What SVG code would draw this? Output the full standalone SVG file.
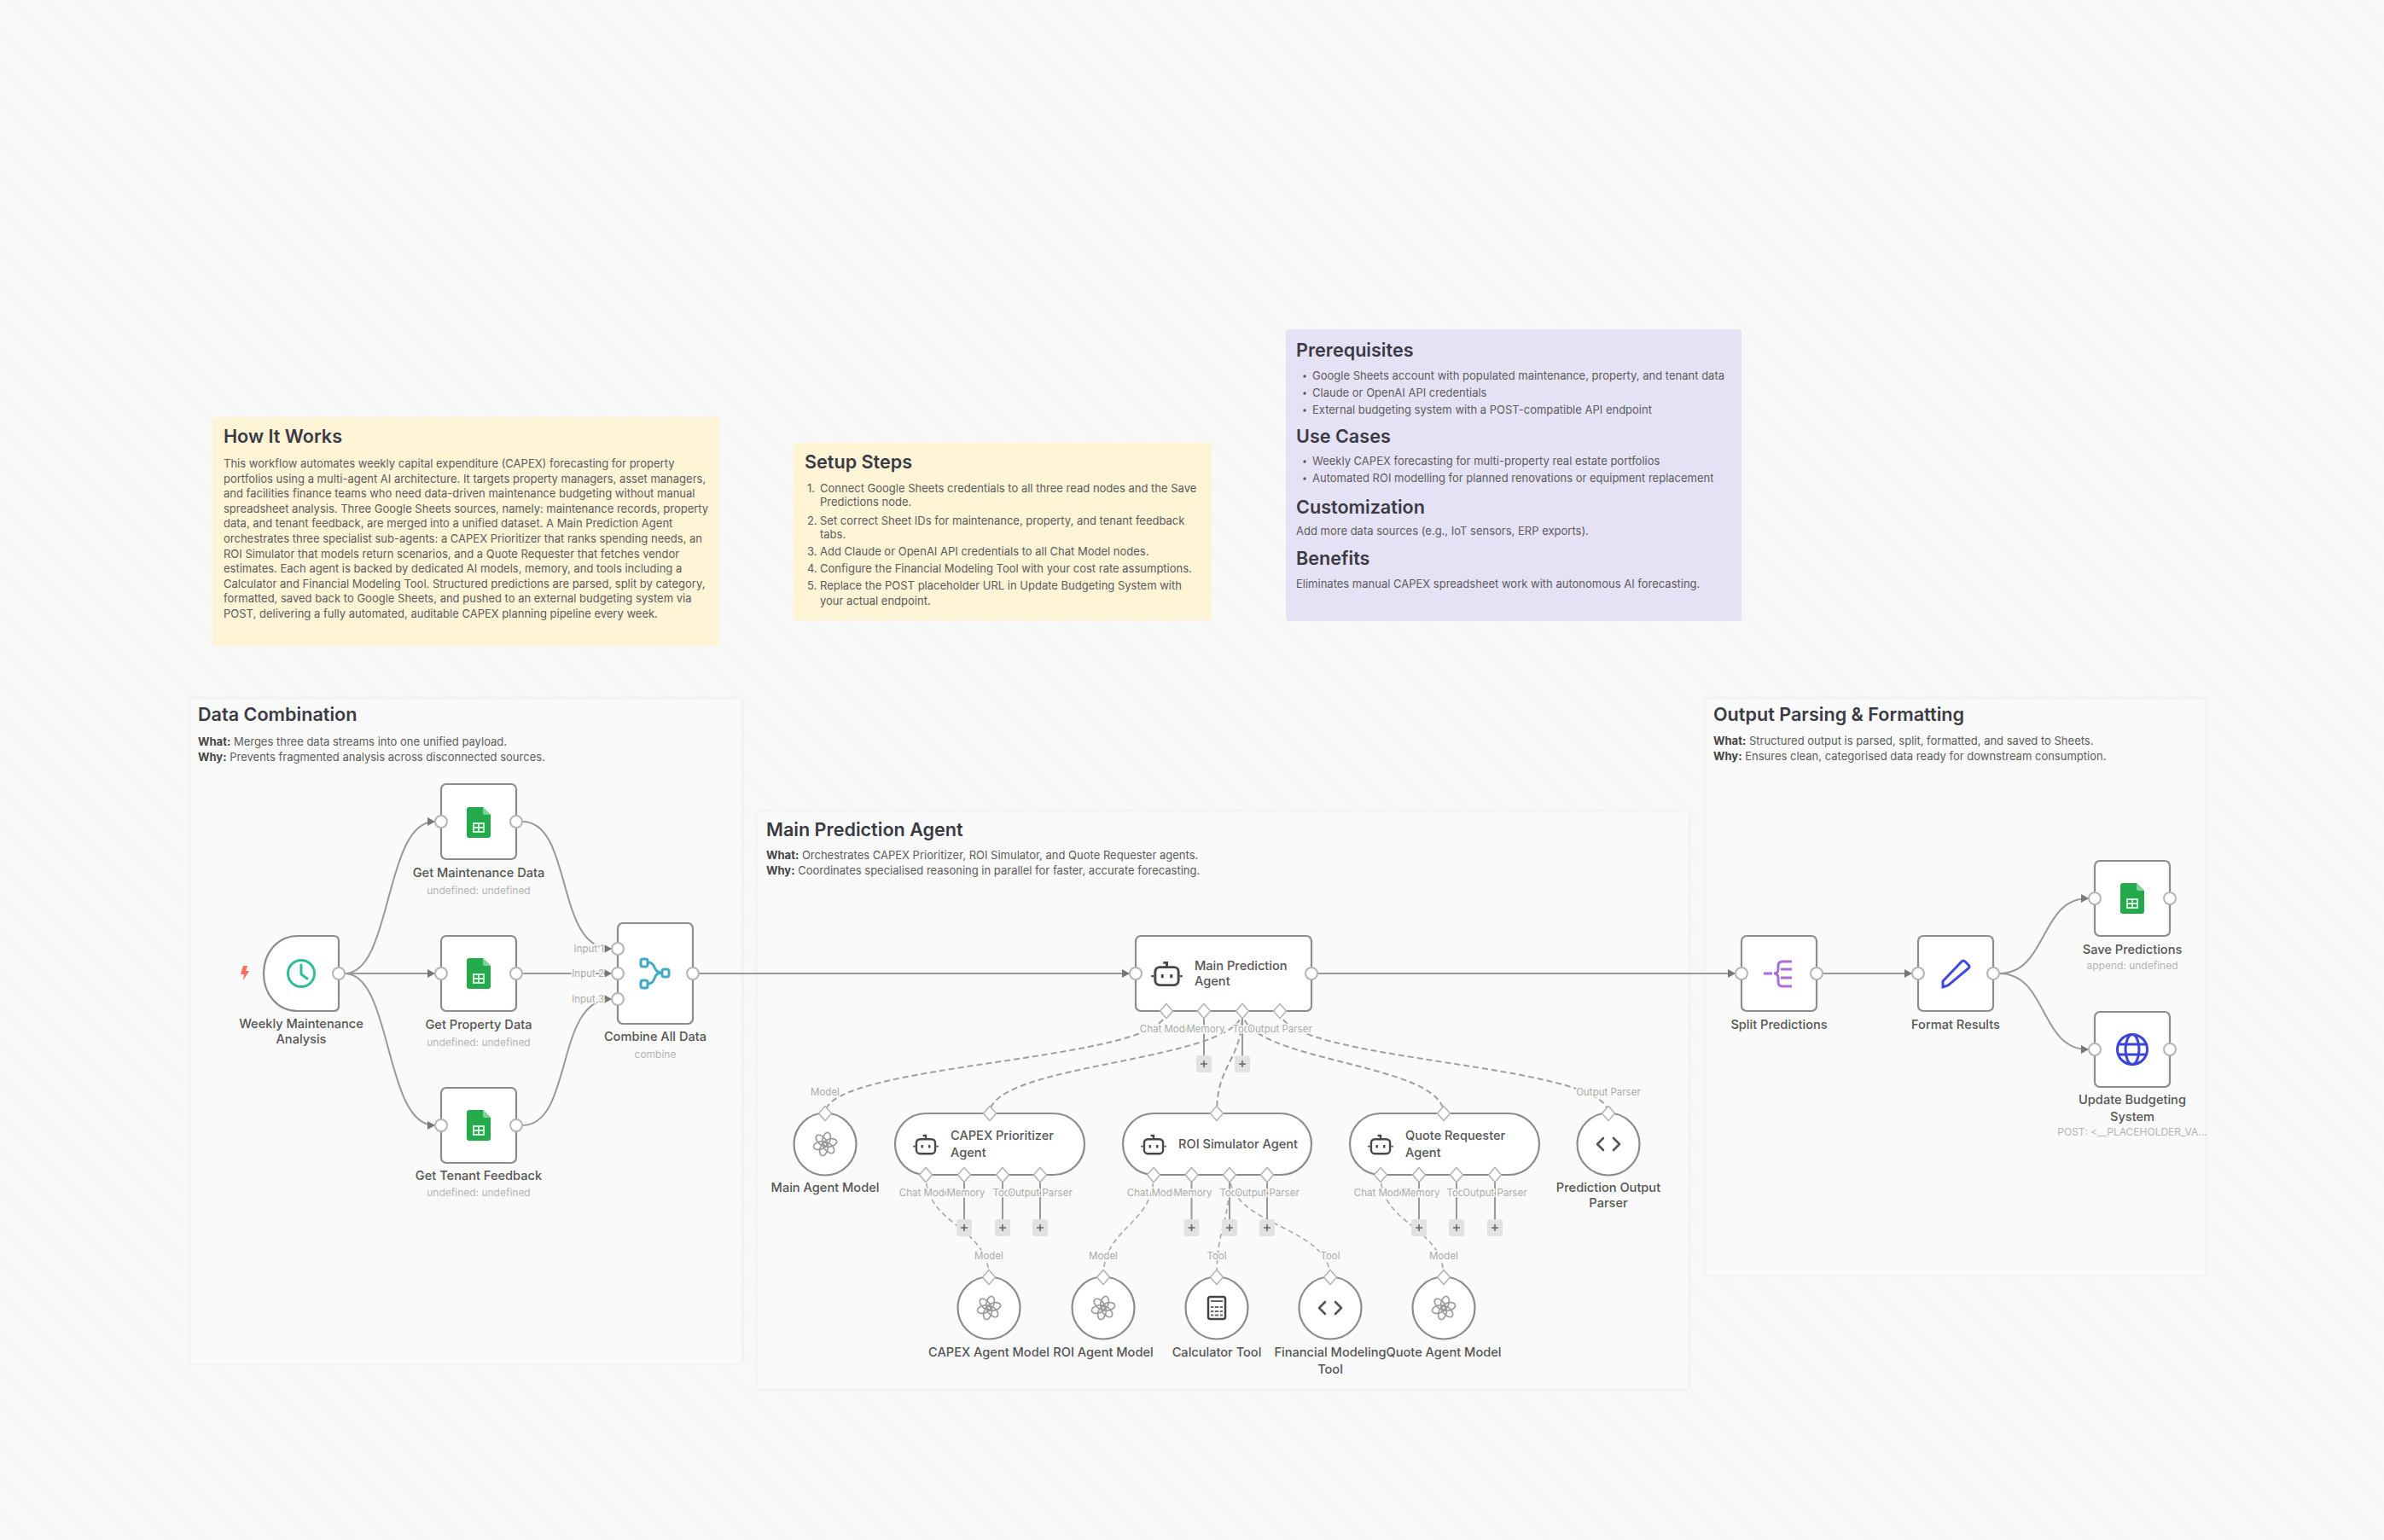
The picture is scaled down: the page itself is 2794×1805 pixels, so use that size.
<svg xmlns="http://www.w3.org/2000/svg" width="2794" height="1805" viewBox="0 0 2794 1805">
<style>
text{font-family:Inter,"Liberation Sans",sans-serif}
.panel{fill:#fafafa;stroke:#f3f3f3;stroke-width:3}
.sticky-y{fill:#fff4d6}
.sticky-p{fill:#e6e2f5}
.h1{font-size:21.600px;font-weight:600;fill:#3a3a44}
.b{font-size:13px;fill:#5c5c5c}
.bb{font-weight:700;fill:#444}
.n{fill:#fff;stroke:#8c8c8c;stroke-width:2.2}
.nl{font-size:14.600px;font-weight:500;fill:#555;text-anchor:middle}
.al{font-size:14.600px;font-weight:500;fill:#555}
.sub{font-size:12px;fill:#b4b4b4;text-anchor:middle}
.pl{font-size:11.500px;fill:#aaa;text-anchor:middle;paint-order:stroke;stroke:#fafafa;stroke-width:3px}
.inl{font-size:11.500px;fill:#aaa;text-anchor:end;paint-order:stroke;stroke:#fafafa;stroke-width:3px}
.c{fill:none;stroke:#999;stroke-width:2}
.a{fill:none;stroke:#a0a0a0;stroke-width:2;stroke-dasharray:7 4}
.a2{fill:none;stroke:#a8a8a8;stroke-width:1.600;stroke-dasharray:6 4}
.s{fill:none;stroke:#999;stroke-width:2}
.port{fill:#fff;stroke:#b5b5b5;stroke-width:2}
.dm{fill:#fff;stroke:#b5b5b5;stroke-width:1.600}
.pb{fill:#e2e2e2}
.pp{stroke:#666;stroke-width:1.600;fill:none}
</style>
<defs>
<pattern id="bg" width="30" height="30" patternUnits="userSpaceOnUse" patternTransform="rotate(-45)">
<rect width="30" height="30" fill="#f8f8f8"/><rect width="12" height="30" fill="#f7f7f7"/>
</pattern>
<marker id="arr" markerWidth="10" markerHeight="10" refX="8" refY="5" orient="auto" markerUnits="userSpaceOnUse"><path d="M0,0L9,5L0,10Z" fill="#777"/></marker>
<g id="sheet"><path d="M-11,-18H5L14,-9V15Q14,18 11,18H-11Q-14,18 -14,15V-15Q-14,-18 -11,-18Z" fill="#24a94b"/><path d="M5,-18L14,-9H7Q5,-9 5,-11Z" fill="#7fd29a"/><path d="M-6,1H6V11H-6ZM0,1V11M-6,6H6" fill="none" stroke="#d8f2df" stroke-width="1.800"/></g>
<g id="bot" fill="none" stroke="#484848" stroke-width="2.800"><rect x="-13" y="-8" width="26" height="20" rx="5"/><path d="M-16,1V3M16,1V3M0,-8V-13H-4"/><path d="M-5,0V4M5,0V4"/></g>
<g id="oa" fill="none" stroke="#9c9c9c" stroke-width="1.700"><ellipse cy="-6" rx="4.500" ry="8" transform="rotate(15)"/><ellipse cy="-6" rx="4.500" ry="8" transform="rotate(75)"/><ellipse cy="-6" rx="4.500" ry="8" transform="rotate(135)"/><ellipse cy="-6" rx="4.500" ry="8" transform="rotate(195)"/><ellipse cy="-6" rx="4.500" ry="8" transform="rotate(255)"/><ellipse cy="-6" rx="4.500" ry="8" transform="rotate(315)"/></g>
<g id="code" fill="none" stroke="#555" stroke-width="2.600" stroke-linecap="round" stroke-linejoin="round"><path d="M-6,-7L-13,0L-6,7M6,-7L13,0L6,7"/></g>
<path id="d" d="M0,-8.500L7.500,0L0,8.500L-7.500,0Z"/>
<g id="plus"><rect class="pb" x="-9" y="-10" width="18" height="20" rx="3"/><path class="pp" d="M-4,0H4M0,-4V4"/></g>
</defs>
<rect width="2794" height="1805" fill="url(#bg)"/>

<g id="note-how">
<rect class="sticky-y" x="249" y="489" width="594" height="268" rx="4"/>
<text class="h1" x="262" y="519">How It Works</text>
<text class="b" x="262" y="548">This workflow automates weekly capital expenditure (CAPEX) forecasting for property</text>
<text class="b" x="262" y="566">portfolios using a multi-agent AI architecture. It targets property managers, asset managers,</text>
<text class="b" x="262" y="583">and facilities finance teams who need data-driven maintenance budgeting without manual</text>
<text class="b" x="262" y="601">spreadsheet analysis. Three Google Sheets sources, namely: maintenance records, property</text>
<text class="b" x="262" y="618">data, and tenant feedback, are merged into a unified dataset. A Main Prediction Agent</text>
<text class="b" x="262" y="636">orchestrates three specialist sub-agents: a CAPEX Prioritizer that ranks spending needs, an</text>
<text class="b" x="262" y="654">ROI Simulator that models return scenarios, and a Quote Requester that fetches vendor</text>
<text class="b" x="262" y="671">estimates. Each agent is backed by dedicated AI models, memory, and tools including a</text>
<text class="b" x="262" y="689">Calculator and Financial Modeling Tool. Structured predictions are parsed, split by category,</text>
<text class="b" x="262" y="706">formatted, saved back to Google Sheets, and pushed to an external budgeting system via</text>
<text class="b" x="262" y="724">POST, delivering a fully automated, auditable CAPEX planning pipeline every week.</text>
</g>

<g id="note-setup">
<rect class="sticky-y" x="930" y="519" width="490" height="208" rx="4"/>
<text class="h1" x="943" y="549">Setup Steps</text>
<text class="b" x="946" y="577">1.</text><text class="b" x="961" y="577">Connect Google Sheets credentials to all three read nodes and the Save</text>
<text class="b" x="961" y="593">Predictions node.</text>
<text class="b" x="946" y="615">2.</text><text class="b" x="961" y="615">Set correct Sheet IDs for maintenance, property, and tenant feedback</text>
<text class="b" x="961" y="631">tabs.</text>
<text class="b" x="946" y="651">3.</text><text class="b" x="961" y="651">Add Claude or OpenAI API credentials to all Chat Model nodes.</text>
<text class="b" x="946" y="671">4.</text><text class="b" x="961" y="671">Configure the Financial Modeling Tool with your cost rate assumptions.</text>
<text class="b" x="946" y="691">5.</text><text class="b" x="961" y="691">Replace the POST placeholder URL in Update Budgeting System with</text>
<text class="b" x="961" y="709">your actual endpoint.</text>
</g>

<g id="note-info">
<rect class="sticky-p" x="1507" y="386" width="534" height="342" rx="4"/>
<text class="h1" x="1519" y="418">Prerequisites</text>
<circle cx="1529" cy="441" r="1.700" fill="#555"/><text class="b" x="1538" y="445">Google Sheets account with populated maintenance, property, and tenant data</text>
<circle cx="1529" cy="461" r="1.700" fill="#555"/><text class="b" x="1538" y="465">Claude or OpenAI API credentials</text>
<circle cx="1529" cy="481" r="1.700" fill="#555"/><text class="b" x="1538" y="485">External budgeting system with a POST-compatible API endpoint</text>
<text class="h1" x="1519" y="519">Use Cases</text>
<circle cx="1529" cy="541" r="1.700" fill="#555"/><text class="b" x="1538" y="545">Weekly CAPEX forecasting for multi-property real estate portfolios</text>
<circle cx="1529" cy="561" r="1.700" fill="#555"/><text class="b" x="1538" y="565">Automated ROI modelling for planned renovations or equipment replacement</text>
<text class="h1" x="1519" y="602">Customization</text>
<text class="b" x="1519" y="627">Add more data sources (e.g., IoT sensors, ERP exports).</text>
<text class="h1" x="1519" y="662">Benefits</text>
<text class="b" x="1519" y="689">Eliminates manual CAPEX spreadsheet work with autonomous AI forecasting.</text>
</g>

<g id="section-data">
<rect class="panel" x="222" y="818" width="648" height="781" rx="4"/>
<text class="h1" x="232" y="845">Data Combination</text>
<text class="b" x="232" y="874"><tspan class="bb">What:</tspan> Merges three data streams into one unified payload.</text>
<text class="b" x="232" y="892"><tspan class="bb">Why:</tspan> Prevents fragmented analysis across disconnected sources.</text>
</g>
<g id="section-main">
<rect class="panel" x="887" y="950" width="1093" height="679" rx="4"/>
<text class="h1" x="898" y="980">Main Prediction Agent</text>
<text class="b" x="898" y="1007"><tspan class="bb">What:</tspan> Orchestrates CAPEX Prioritizer, ROI Simulator, and Quote Requester agents.</text>
<text class="b" x="898" y="1025"><tspan class="bb">Why:</tspan> Coordinates specialised reasoning in parallel for faster, accurate forecasting.</text>
</g>
<g id="section-output">
<rect class="panel" x="1998" y="818" width="588" height="677" rx="4"/>
<text class="h1" x="2008" y="845">Output Parsing &amp; Formatting</text>
<text class="b" x="2008" y="873"><tspan class="bb">What:</tspan> Structured output is parsed, split, formatted, and saved to Sheets.</text>
<text class="b" x="2008" y="891"><tspan class="bb">Why:</tspan> Ensures clean, categorised data ready for downstream consumption.</text>
</g>

<g id="connectors">
<path class="c" marker-end="url(#arr)" d="M404,1141C460,1141 450,963 509,963"/>
<path class="c" marker-end="url(#arr)" d="M404,1141H509"/>
<path class="c" marker-end="url(#arr)" d="M404,1141C460,1141 450,1319 509,1319"/>
<path class="c" marker-end="url(#arr)" d="M612,963C672,963 650,1112 716,1112"/>
<path class="c" marker-end="url(#arr)" d="M612,1141H716"/>
<path class="c" marker-end="url(#arr)" d="M612,1319C672,1319 650,1171 716,1171"/>
<path class="c" marker-end="url(#arr)" d="M819,1141H1323"/>
<path class="c" marker-end="url(#arr)" d="M1544,1141H2033"/>
<path class="c" marker-end="url(#arr)" d="M2136,1141H2240"/>
<path class="c" marker-end="url(#arr)" d="M2343,1141C2400,1141 2390,1053 2447,1053"/>
<path class="c" marker-end="url(#arr)" d="M2343,1141C2400,1141 2390,1230 2447,1230"/>
<path class="a" d="M1367,1185C1367,1245 967,1245 967,1305"/>
<path class="a" d="M1456,1185C1456,1245 1160,1245 1160,1305"/>
<path class="a" d="M1456,1185C1456,1245 1426,1245 1426,1305"/>
<path class="a" d="M1456,1185C1456,1245 1692,1245 1692,1305"/>
<path class="a" d="M1500,1185C1500,1245 1885,1245 1885,1305"/>
<path class="a2" d="M1085,1377C1085,1437 1159,1437 1159,1497"/>
<path class="a2" d="M1352,1377C1352,1437 1293,1437 1293,1497"/>
<path class="a2" d="M1441,1377C1441,1437 1426,1437 1426,1497"/>
<path class="a2" d="M1441,1377C1441,1437 1559,1437 1559,1497"/>
<path class="a2" d="M1618,1377C1618,1437 1692,1437 1692,1497"/>
<path class="s" d="M1411,1185V1238M1456,1185V1238"/>
<path class="s" d="M1130,1377V1430M1175,1377V1430M1219,1377V1430"/>
<path class="s" d="M1396.500,1377V1430M1441,1377V1430M1485,1377V1430"/>
<path class="s" d="M1663,1377V1430M1707,1377V1430M1752,1377V1430"/>
</g>

<g id="node-weekly">
<path d="M285,1132L290,1132L288,1138L292,1138L285,1149L286,1142L282,1142Z" fill="#ff6d5a"/>
<path class="n" d="M349,1097H391Q397,1097 397,1103V1179Q397,1185 391,1185H349C325,1185 309,1165 309,1141C309,1117 325,1097 349,1097Z"/>
<circle cx="353" cy="1141" r="15.500" fill="none" stroke="#2fbd97" stroke-width="3"/><path d="M353,1131V1142L360,1147" fill="none" stroke="#2fbd97" stroke-width="3" stroke-linecap="round"/>
<circle class="port" cx="397" cy="1141" r="7"/>
<text class="nl" x="353" y="1205">Weekly Maintenance</text><text class="nl" x="353" y="1223">Analysis</text>
</g>
<g id="node-maintenance">
<rect class="n" x="517" y="919" width="88" height="88" rx="6"/><use href="#sheet" x="561" y="964"/>
<circle class="port" cx="517" cy="963" r="7"/><circle class="port" cx="605" cy="963" r="7"/>
<text class="nl" x="561" y="1028">Get Maintenance Data</text><text class="sub" x="561" y="1048">undefined: undefined</text>
</g>
<g id="node-property">
<rect class="n" x="517" y="1097" width="88" height="88" rx="6"/><use href="#sheet" x="561" y="1141"/>
<circle class="port" cx="517" cy="1141" r="7"/><circle class="port" cx="605" cy="1141" r="7"/>
<text class="nl" x="561" y="1206">Get Property Data</text><text class="sub" x="561" y="1226">undefined: undefined</text>
</g>
<g id="node-tenant">
<rect class="n" x="517" y="1275" width="88" height="88" rx="6"/><use href="#sheet" x="561" y="1319"/>
<circle class="port" cx="517" cy="1319" r="7"/><circle class="port" cx="605" cy="1319" r="7"/>
<text class="nl" x="561" y="1383">Get Tenant Feedback</text><text class="sub" x="561" y="1402">undefined: undefined</text>
</g>
<g id="node-combine">
<rect class="n" x="724" y="1082" width="88" height="118" rx="6"/>
<g fill="none" stroke="#3fa9c7" stroke-width="3"><rect x="751" y="1124" width="8" height="9" rx="2.500"/><rect x="751" y="1149" width="8" height="9" rx="2.500"/><rect x="776" y="1136" width="8" height="9" rx="2.500"/><path d="M759,1128C770,1128 764,1140 776,1140M759,1153C770,1153 764,1140 776,1140"/></g>
<text class="inl" x="708" y="1116">Input 1</text><text class="inl" x="708" y="1145">Input 2</text><text class="inl" x="708" y="1175">Input 3</text>
<circle class="port" cx="724" cy="1112" r="7"/><circle class="port" cx="724" cy="1141" r="7"/><circle class="port" cx="724" cy="1171" r="7"/><circle class="port" cx="812" cy="1141" r="7"/>
<text class="nl" x="768" y="1220">Combine All Data</text><text class="sub" x="768" y="1240">combine</text>
</g>

<g id="node-main-agent">
<rect class="n" x="1331" y="1097" width="206" height="88" rx="6"/>
<use href="#bot" transform="translate(1367.500 1142) scale(1.05)"/>
<circle class="port" cx="1331" cy="1141" r="7"/><circle class="port" cx="1537" cy="1141" r="7"/>
<text class="al" x="1400" y="1137">Main Prediction</text><text class="al" x="1400" y="1155">Agent</text>
<use class="dm" href="#d" x="1367" y="1185"/><use class="dm" href="#d" x="1411" y="1185"/><use class="dm" href="#d" x="1456" y="1185"/><use class="dm" href="#d" x="1500" y="1185"/>
<text class="pl" x="1367" y="1210">Chat Model</text><text class="pl" x="1413" y="1210">Memory</text><text class="pl" x="1456" y="1210">Tool</text><text class="pl" x="1500" y="1210">Output Parser</text>
<use href="#plus" x="1411" y="1247"/><use href="#plus" x="1456" y="1247"/>
</g>
<g id="node-main-model">
<circle class="n" cx="967" cy="1341" r="36.500"/><use href="#oa" x="967" y="1341"/>
<use class="dm" href="#d" x="967" y="1305"/><text class="pl" x="967" y="1284">Model</text>
<text class="nl" x="967" y="1397">Main Agent Model</text>
</g>
<g id="node-capex">
<rect class="n" x="1049" y="1305" width="222" height="72" rx="36"/>
<use href="#bot" transform="translate(1085 1342) scale(.85)"/>
<text class="al" x="1114" y="1336">CAPEX Prioritizer</text><text class="al" x="1114" y="1356">Agent</text>
<use class="dm" href="#d" x="1160" y="1305"/>
<use class="dm" href="#d" x="1085" y="1377"/><use class="dm" href="#d" x="1130" y="1377"/><use class="dm" href="#d" x="1175" y="1377"/><use class="dm" href="#d" x="1219" y="1377"/>
<text class="pl" x="1085" y="1402">Chat Model</text><text class="pl" x="1132" y="1402">Memory</text><text class="pl" x="1175" y="1402">Tool</text><text class="pl" x="1219" y="1402">Output Parser</text>
<use href="#plus" x="1130" y="1439"/><use href="#plus" x="1175" y="1439"/><use href="#plus" x="1219" y="1439"/>
</g>
<g id="node-roi">
<rect class="n" x="1316" y="1305" width="221" height="72" rx="36"/>
<use href="#bot" transform="translate(1352 1342) scale(.85)"/>
<text class="al" x="1381" y="1346">ROI Simulator Agent</text>
<use class="dm" href="#d" x="1426" y="1305"/>
<use class="dm" href="#d" x="1352" y="1377"/><use class="dm" href="#d" x="1396.500" y="1377"/><use class="dm" href="#d" x="1441" y="1377"/><use class="dm" href="#d" x="1485" y="1377"/>
<text class="pl" x="1352" y="1402">Chat Model</text><text class="pl" x="1398" y="1402">Memory</text><text class="pl" x="1441" y="1402">Tool</text><text class="pl" x="1485" y="1402">Output Parser</text>
<use href="#plus" x="1396.500" y="1439"/><use href="#plus" x="1441" y="1439"/><use href="#plus" x="1485" y="1439"/>
</g>
<g id="node-quote">
<rect class="n" x="1582" y="1305" width="222" height="72" rx="36"/>
<use href="#bot" transform="translate(1618 1342) scale(.85)"/>
<text class="al" x="1647" y="1336">Quote Requester</text><text class="al" x="1647" y="1356">Agent</text>
<use class="dm" href="#d" x="1692" y="1305"/>
<use class="dm" href="#d" x="1618" y="1377"/><use class="dm" href="#d" x="1663" y="1377"/><use class="dm" href="#d" x="1707" y="1377"/><use class="dm" href="#d" x="1752" y="1377"/>
<text class="pl" x="1618" y="1402">Chat Model</text><text class="pl" x="1665" y="1402">Memory</text><text class="pl" x="1707" y="1402">Tool</text><text class="pl" x="1752" y="1402">Output Parser</text>
<use href="#plus" x="1663" y="1439"/><use href="#plus" x="1707" y="1439"/><use href="#plus" x="1752" y="1439"/>
</g>
<g id="node-parser">
<circle class="n" cx="1885" cy="1341" r="36.500"/><use href="#code" x="1885" y="1341"/>
<use class="dm" href="#d" x="1885" y="1305"/><text class="pl" x="1885" y="1284">Output Parser</text>
<text class="nl" x="1885" y="1397">Prediction Output</text><text class="nl" x="1885" y="1415">Parser</text>
</g>
<g id="node-capex-model">
<circle class="n" cx="1159" cy="1533" r="36.500"/><use href="#oa" x="1159" y="1533"/>
<use class="dm" href="#d" x="1159" y="1497"/><text class="pl" x="1159" y="1476">Model</text>
<text class="nl" x="1159" y="1590">CAPEX Agent Model</text>
</g>
<g id="node-roi-model">
<circle class="n" cx="1293" cy="1533" r="36.500"/><use href="#oa" x="1293" y="1533"/>
<use class="dm" href="#d" x="1293" y="1497"/><text class="pl" x="1293" y="1476">Model</text>
<text class="nl" x="1293" y="1590">ROI Agent Model</text>
</g>
<g id="node-calculator">
<circle class="n" cx="1426" cy="1533" r="36.500"/>
<rect x="1416" y="1520" width="20" height="26" rx="2.500" fill="none" stroke="#444" stroke-width="2.500"/><path d="M1419,1525H1433M1419,1532H1433M1419,1537H1433M1419,1541.500H1433" stroke="#666" stroke-width="2"/><path d="M1423,1530V1544M1429,1530V1544" stroke="#fff" stroke-width="1.500"/>
<use class="dm" href="#d" x="1426" y="1497"/><text class="pl" x="1426" y="1476">Tool</text>
<text class="nl" x="1426" y="1590">Calculator Tool</text>
</g>
<g id="node-financial">
<circle class="n" cx="1559" cy="1533" r="36.500"/><use href="#code" x="1559" y="1533"/>
<use class="dm" href="#d" x="1559" y="1497"/><text class="pl" x="1559" y="1476">Tool</text>
<text class="nl" x="1559" y="1590">Financial Modeling</text><text class="nl" x="1559" y="1610">Tool</text>
</g>
<g id="node-quote-model">
<circle class="n" cx="1692" cy="1533" r="36.500"/><use href="#oa" x="1692" y="1533"/>
<use class="dm" href="#d" x="1692" y="1497"/><text class="pl" x="1692" y="1476">Model</text>
<text class="nl" x="1692" y="1590">Quote Agent Model</text>
</g>

<g id="node-split">
<rect class="n" x="2041" y="1097" width="88" height="88" rx="6"/>
<path d="M2067,1141H2077M2100,1127H2089Q2084,1127 2084,1132V1136Q2084,1141 2079,1141Q2084,1141 2084,1146V1151Q2084,1156 2089,1156H2100M2087,1136H2100M2087,1146H2100" fill="none" stroke="#a96fd8" stroke-width="3"/>
<circle class="port" cx="2041" cy="1141" r="7"/><circle class="port" cx="2129" cy="1141" r="7"/>
<text class="nl" x="2085" y="1206">Split Predictions</text>
</g>
<g id="node-format">
<rect class="n" x="2248" y="1097" width="88" height="88" rx="6"/>
<path d="M2303,1127L2307,1131Q2309,1133 2307,1135L2283,1155L2277,1157L2277,1150L2299,1127Q2301,1125 2303,1127Z" fill="none" stroke="#3f49e0" stroke-width="3"/>
<circle class="port" cx="2248" cy="1141" r="7"/><circle class="port" cx="2336" cy="1141" r="7"/>
<text class="nl" x="2292" y="1206">Format Results</text>
</g>
<g id="node-save">
<rect class="n" x="2455" y="1009" width="88" height="88" rx="6"/><use href="#sheet" x="2499" y="1053"/>
<circle class="port" cx="2455" cy="1053" r="7"/><circle class="port" cx="2543" cy="1053" r="7"/>
<text class="nl" x="2499" y="1118">Save Predictions</text><text class="sub" x="2499" y="1136">append: undefined</text>
</g>
<g id="node-update">
<rect class="n" x="2455" y="1186" width="88" height="88" rx="6"/>
<g fill="none" stroke="#3c44d6" stroke-width="3"><circle cx="2499" cy="1230" r="17.500"/><ellipse cx="2499" cy="1230" rx="8" ry="17.500"/><path d="M2483,1224H2515M2483,1236H2515"/></g>
<circle class="port" cx="2455" cy="1230" r="7"/><circle class="port" cx="2543" cy="1230" r="7"/>
<text class="nl" x="2499" y="1294">Update Budgeting</text><text class="nl" x="2499" y="1314">System</text><text class="sub" x="2499" y="1331">POST: &lt;__PLACEHOLDER_VA...</text>
</g>
</svg>
